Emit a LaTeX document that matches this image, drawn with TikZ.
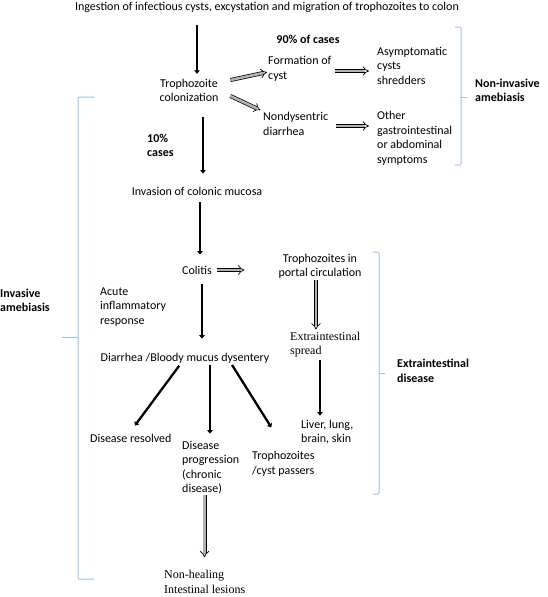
\documentclass[tikz,border=0pt]{standalone}
\usepackage{fontspec}
\setmainfont{Carlito}
\newfontfamily\serifpart{Liberation Serif}
\usetikzlibrary{arrows.meta}
\definecolor{bracketblue}{RGB}{155,194,230}

\begin{document}
\begin{tikzpicture}[
    x=1pt, y=-1pt,
    txt/.style={
        inner sep=0pt,
        anchor=west,
        align=left,
        font=\fontsize{12}{14.5}\selectfont
    },
    ctxt/.style={
        txt,
        anchor=center,
        align=center
    },
    boldtxt/.style={
        txt,
        font=\fontsize{12}{14.5}\selectfont\bfseries
    },
    seriftxt/.style={
        txt,
        font=\fontsize{12}{14.5}\serifpart
    },
    arrow/.style={line width=2.3pt, -{Triangle[length=3.5pt,width=5.5pt]}},
    dblarrow/.style={line width=0.7pt, double=gray!60, double distance=2.6pt, -{Implies}},
    bracket/.style={draw=bracketblue, line width=1pt, rounded corners=1pt}
]
\useasboundingbox (0,0) rectangle (548,597);

\node[ctxt] (ingest) at (267,7) {Ingestion of infectious cysts, excystation and migration of trophozoites to colon};

\node[ctxt] (troph) at (189,90.5) {Trophozoite\\colonization};
\node[boldtxt, anchor=center] (pct90) at (308,39) {90\% of cases};
\node[txt] (cyst) at (268,69) {Formation of\\cyst};
\node[txt] (asym) at (377,65.5) {Asymptomatic\\cysts\\shredders};
\node[txt] (nondys) at (263,124) {Nondysentric\\diarrhea};
\node[txt] (other) at (377,138.5) {Other\\gastrointestinal\\or abdominal\\symptoms};
\node[boldtxt] (noninv) at (475,90.5) {Non-invasive\\amebiasis};

\node[boldtxt] (pct10) at (147,145.5) {10\%\\cases};
\node[ctxt] (invasion) at (197,191) {Invasion of colonic mucosa};
\node[ctxt] (colitis) at (197,270) {Colitis};
\node[ctxt] (portal) at (320,266.5) {Trophozoites in\\portal circulation};
\node[seriftxt] (spread) at (290,344.5) {Extraintestinal\\spread};
\node[txt] (liver) at (301,432) {Liver, lung,\\brain, skin};
\node[boldtxt] (extdis) at (397,371) {Extraintestinal\\disease};

\node[boldtxt] (invasive) at (0,300.5) {Invasive\\amebiasis};
\node[txt] (acute) at (100,307) {Acute\\inflammatory\\response};
\node[ctxt] (diarrhea) at (185,358) {Diarrhea /Bloody mucus dysentery};
\node[txt] (resolved) at (90,438) {Disease resolved};
\node[txt] (progression) at (182,467.5) {Disease\\progression\\(chronic\\disease)};
\node[txt] (passers) at (252,464) {Trophozoites\\/cyst passers};
\node[seriftxt] (lesions) at (164,582) {Non-healing\\Intestinal lesions};

\draw[arrow, shorten <=13pt, shorten >=5pt] ([xshift=8pt]troph.north |- ingest.south) -- ([xshift=8pt]troph.north);
\draw[dblarrow, shorten <=12pt, shorten >=1pt] ([yshift=8pt]troph.east) -- ([yshift=-3pt]cyst.west);
\draw[dblarrow, shorten <=13pt, shorten >=3pt] (troph.east) -- ([yshift=1pt]nondys.north west);
\draw[dblarrow, shorten <=3pt, shorten >=8pt] ([yshift=-2pt]cyst.east) -- ([yshift=-2pt]cyst.east -| asym.west);
\draw[dblarrow, shorten <=8pt, shorten >=8pt] ([yshift=-2pt]nondys.east) -- ([yshift=-2pt]nondys.east -| other.west);
\draw[arrow, shorten <=15pt, shorten >=13pt] ([xshift=14pt]troph.south) -- ([xshift=14pt]troph.south |- invasion.north);
\draw[arrow, shorten <=7pt, shorten >=11pt] ([xshift=3pt]invasion.south) -- ([xshift=3pt]invasion.south |- colitis.north);
\draw[dblarrow, shorten <=5pt, shorten >=34pt] (colitis.east) -- (colitis.east -| portal.west);
\draw[dblarrow, shorten <=1pt, shorten >=2pt] ([xshift=-4pt]portal.south) -- ([xshift=-4pt]portal.south |- spread.north);
\draw[arrow, shorten <=3pt, shorten >=4pt] ([xshift=30pt]spread.south west) -- ([xshift=30pt]spread.south west |- liver.north);
\draw[arrow, shorten <=10pt, shorten >=14pt] ([xshift=5pt]colitis.south) -- ([xshift=5pt]colitis.south |- diarrhea.north);
\draw[arrow, shorten <=3pt] ([xshift=-4pt]diarrhea.south) -- ([xshift=4pt,yshift=8pt]resolved.north);
\draw[arrow, shorten <=2pt, shorten >=7pt] ([xshift=25pt]diarrhea.south) -- ([xshift=25pt]diarrhea.south |- progression.north);
\draw[arrow, shorten <=2pt] ([xshift=46pt]diarrhea.south) -- ([xshift=-12pt,yshift=24pt]passers.north);
\draw[dblarrow, shorten <=1pt, shorten >=13pt] ([xshift=22.5pt]progression.south west) -- ([xshift=22.5pt]progression.south west |- lesions.north);

\draw[bracket] (455,27) -- (461,27) -- (461,165) -- (455,165);
\draw[bracket] (461,97) -- (467,97);
\draw[bracket] (94,97) -- (78,97) -- (78,579) -- (94,579);
\draw[bracket] (78,337) -- (62,337);
\draw[bracket] (373,252) -- (379,252) -- (379,494) -- (373,494);
\draw[bracket] (379,373) -- (385,373);

\end{tikzpicture}
\end{document}
